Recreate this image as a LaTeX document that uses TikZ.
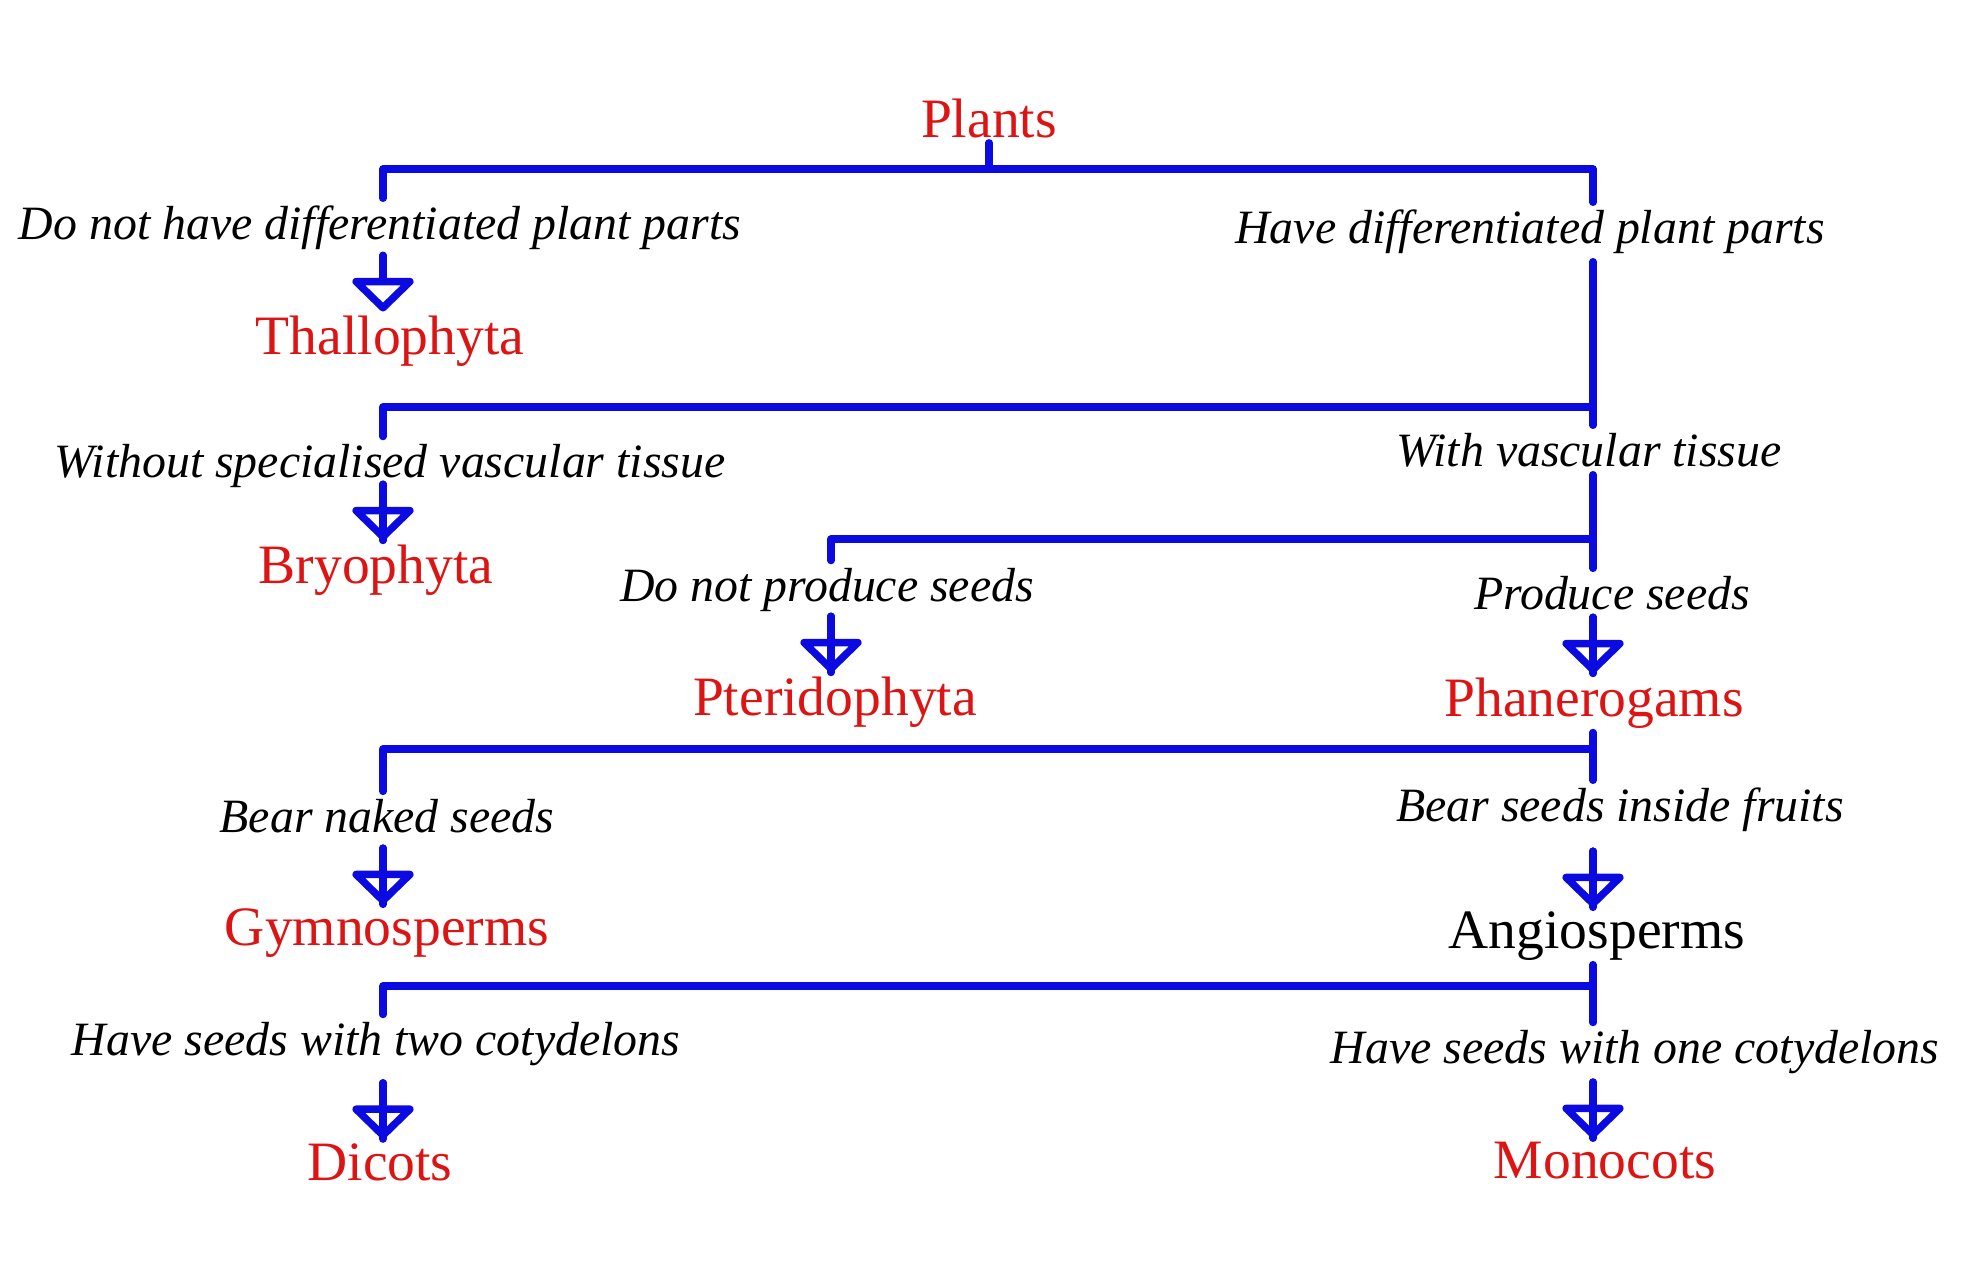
\documentclass[tikz,border=0pt]{standalone}
\usepackage{fontspec}
\setmainfont{Liberation Serif}
\usetikzlibrary{arrows.meta,positioning}
\definecolor{taxred}{RGB}{220,20,20}
\definecolor{linkblue}{RGB}{10,10,225}

\begin{document}
\begin{tikzpicture}[x=0.01cm,y=-0.01cm,
          taxon/.style={text=taxred, font=\fontsize{15.8}{19}\selectfont, inner sep=1pt},
          trait/.style={font=\fontsize{13.6}{16}\selectfont\itshape, inner sep=2pt},
          link/.style={draw=linkblue, line width=2.1pt, line cap=round, line join=round},
          downopen/.style={link, -{Triangle[open,round,length=10pt,width=20pt]}},
          down/.style={downopen, postaction={draw=linkblue, line width=2.1pt, -}}]

          \useasboundingbox (0,0) rectangle (1965,1264);

          % taxa and traits
          \node[taxon] (plants) at (989,119) {Plants};
          \node[trait] (ndiff) at (380,228) {Do not have differentiated plant parts};
          \node[trait] (diff) at (1530,232) {Have differentiated plant parts};
          \node[taxon] (thal) at (390,341) {Thallophyta};
          \node[trait] (nvasc) at (390,466) {Without specialised vascular tissue};
          \node[trait] (vasc) at (1589,450) {With vascular tissue};
          \node[taxon] (bryo) at (376,570) {Bryophyta};
          \node[trait] (nseed) at (827,590) {Do not produce seeds};
          \node[trait] (seed) at (1612,593) {Produce seeds};
          \node[taxon] (pter) at (835,702) {Pteridophyta};
          \node[taxon] (phan) at (1594,703) {Phanerogams};
          \node[trait] (naked) at (387,816) {Bear naked seeds};
          \node[trait] (fruit) at (1620,810) {Bear seeds inside fruits};
          \node[taxon] (gymno) at (387,933) {Gymnosperms};
          \node[taxon, text=black] (angio) at (1597,936) {Angiosperms};
          \node[trait] (two) at (376,1044) {Have seeds with two cotydelons};
          \node[trait] (one) at (1635,1052) {Have seeds with one cotydelons};
          \node[taxon] (dicot) at (380,1162) {Dicots};
          \node[taxon] (mono) at (1605,1161) {Monocots};

          % bar ends
          \coordinate (b1l) at (383,169);  \coordinate (b1r) at (1593,169);
          \coordinate (b2l) at (383,407);  \coordinate (b2r) at (1593,407);
          \coordinate (b3l) at (831,539);  \coordinate (b3r) at (1593,539);
          \coordinate (b4l) at (383,749);  \coordinate (b4r) at (1593,749);
          \coordinate (b5l) at (383,986);  \coordinate (b5r) at (1593,986);

          \draw[link] (plants.south) -- (plants.south |- b1l);
          \draw[link] (b1l |- ndiff.north) -- (b1l) -- (b1r) -- (b1r |- diff.north);
          \draw[downopen] ([yshift=16pt]b1l |- thal.north) -- (b1l |- thal.north);

          \draw[link] (b2r |- diff.south) -- (b2r |- vasc.north);
          \draw[link] (b2l |- nvasc.north) -- (b2l) -- (b2r);
          \draw[down] ([yshift=16pt]b2l |- bryo.north) -- (b2l |- bryo.north);

          \draw[link] (b3r |- vasc.south) -- (b3r |- seed.north);
          \draw[link] (b3l |- nseed.north) -- (b3l) -- (b3r);
          \draw[down] ([yshift=16pt]b3l |- pter.north) -- (b3l |- pter.north);
          \draw[down] ([yshift=16pt]b3r |- phan.north) -- (b3r |- phan.north);

          \draw[link] (b4r |- phan.south) -- (b4r |- fruit.north);
          \draw[link] (b4l |- naked.north) -- (b4l) -- (b4r);
          \draw[down] ([yshift=16pt]b4l |- gymno.north) -- (b4l |- gymno.north);
          \draw[down] ([yshift=16pt]b4r |- angio.north) -- (b4r |- angio.north);

          \draw[link] (b5r |- angio.south) -- (b5r |- one.north);
          \draw[link] (b5l |- two.north) -- (b5l) -- (b5r);
          \draw[down] ([yshift=16pt]b5l |- dicot.north) -- (b5l |- dicot.north);
          \draw[down] ([yshift=16pt]b5r |- mono.north) -- (b5r |- mono.north);
        \end{tikzpicture}
\end{document}
